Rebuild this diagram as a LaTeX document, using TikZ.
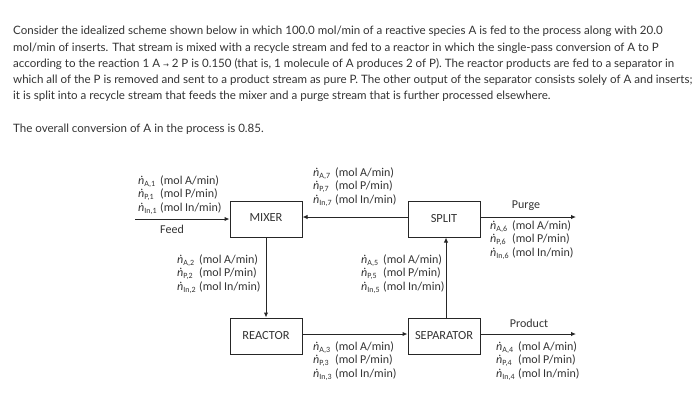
\documentclass[tikz,border=0pt]{standalone}
\usepackage{fontspec}
\setmainfont{Lato}
\newfontfamily\diagfont{Carlito}
\newfontfamily\arrowfont{DejaVu Sans}
\usetikzlibrary{arrows.meta}
\definecolor{inkgray}{HTML}{333333}
\newcommand{\flowrate}[2]{\makebox[22pt][l]{\textit{ṅ}\textsubscript{#1,#2}}}
\newcommand{\flowblock}[1]{%
  \flowrate{A}{#1}(mol A/min)\\
  \flowrate{P}{#1}(mol P/min)\\
  \flowrate{In}{#1}(mol In/min)}
\tikzset{
  unitbox/.style={draw=black!85, line width=1pt, minimum width=72pt, minimum height=36pt,
    inner sep=0pt, text depth=2pt, font=\diagfont\fontsize{12.4}{12}\selectfont, text=inkgray},
  flowline/.style={draw=black!85, line width=1pt, -{Latex[length=5pt,width=4.5pt]}},
  flowlabel/.style={anchor=west, inner sep=0pt, align=left, text=inkgray,
    font=\diagfont\fontsize{12}{13.6}\selectfont},
  streamname/.style={inner sep=0pt, text=inkgray, font=\diagfont\fontsize{12}{12}\selectfont},
  bodytext/.style={anchor=north west, inner sep=0pt, align=left, text=inkgray,
    font=\fontsize{11.55}{16.3}\selectfont}
}
\begin{document}
\begin{tikzpicture}[x=1pt, y=-1pt]
      \useasboundingbox (0,0) rectangle (700,405);
      \fill[white] (0,0) rectangle (700,405);
      %
      \node[bodytext] (intro) at (13,26) {Consider the idealized scheme shown below in which 100.0 mol/min of a reactive species A is fed to the process along with 20.0\\
        mol/min of inserts. That stream is mixed with a recycle stream and fed to a reactor in which the single-pass conversion of A to P\\
        according to the reaction 1 A {\arrowfont\scriptsize→} 2 P is 0.150 (that is, 1 molecule of A produces 2 of P). The reactor products are fed to a separator in\\
        which all of the P is removed and sent to a product stream as pure P. The other output of the separator consists solely of A and inserts;\\
        it is split into a recycle stream that feeds the mixer and a purge stream that is further processed elsewhere.};
      \node[bodytext] (overall) at (13,124) {The overall conversion of A in the process is 0.85.};
      %
      \node[unitbox] (mixer) at (266,219) {MIXER};             % top left
      \node[unitbox] (split) at (444,219) {SPLIT};             % top right
      \node[unitbox] (reactor) at (266,336) {REACTOR};         % bottom left
      \node[unitbox] (separator) at (444,336) {SEPARATOR};     % bottom right
      %
      \coordinate (feedin) at (135,219);
      \coordinate (purgeout) at (576,217);
      \coordinate (productout) at (576,334);
      %
      \draw[flowline] (feedin) -- (mixer.west);
      \draw[flowline] ([yshift=2pt]split.west) -- ([yshift=2pt]mixer.east);
      \draw[flowline] (mixer.south) -- (reactor.north);
      \draw[flowline] ([yshift=2pt]reactor.east) -- ([yshift=2pt]separator.west);
      \draw[flowline] ([xshift=2pt]separator.north) -- ([xshift=2pt]split.south);
      \draw[flowline] ([yshift=2pt]split.east) -- (purgeout);
      \draw[flowline] ([yshift=2pt]separator.east) -- (productout);
      %
      \node[flowlabel] (stream1) at (138,195) {\flowblock{1}};
      \node[flowlabel] (stream2) at (177,274) {\flowblock{2}};
      \node[flowlabel] (stream3) at (313,361) {\flowblock{3}};
      \node[flowlabel] (stream4) at (496,361) {\flowblock{4}};
      \node[flowlabel] (stream5) at (361,274) {\flowblock{5}};
      \node[flowlabel] (stream6) at (490,240) {\flowblock{6}};
      \node[flowlabel] (stream7) at (313,187) {\flowblock{7}};
      %
      \node[streamname] (feedname) at (172,229) {Feed};
      \node[streamname] (purgename) at (526,206) {Purge};
      \node[streamname] (productname) at (529,323) {Product};
      %
    \end{tikzpicture}
\end{document}
